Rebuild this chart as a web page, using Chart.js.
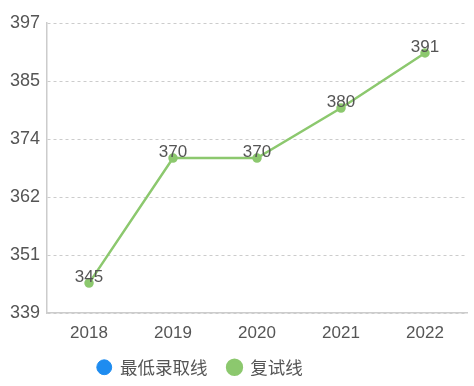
<!DOCTYPE html>
<html><head><meta charset="utf-8">
<script src="https://cdn.jsdelivr.net/npm/chart.js@4/dist/chart.umd.min.js"></script>
<style>html,body{margin:0;padding:0;background:#fff}#wrap{width:474px;height:386px}</style>
</head><body><div id="wrap"><canvas id="c" width="474" height="386"></canvas></div>
<script>
const categories = ['2018','2019','2020','2021','2022'];
const minScore = [null, null, null, null, null];
const retestLine = [345, 370, 370, 380, 391];
const yTicks = [339, 351, 362, 374, 385, 397];

const labelPlugin = {
  id: 'pointLabels',
  afterLayout(chart) {
    chart.legend.right -= 70;
  },
  afterDatasetsDraw(chart) {
    const ctx = chart.ctx;
    const meta = chart.getDatasetMeta(1);
    ctx.save();
    ctx.font = '17px "Liberation Sans", Arial, sans-serif';
    ctx.fillStyle = '#555';
    ctx.textAlign = 'center';
    ctx.textBaseline = 'bottom';
    meta.data.forEach((p, i) => {
      ctx.fillText(String(retestLine[i]), p.x, p.y + 3);
    });
    ctx.restore();
  }
};

new Chart(document.getElementById('c'), {
  type: 'line',
  data: {
    labels: categories,
    datasets: [
      { label: '最低录取线', data: minScore, borderColor: '#1e8cf0', backgroundColor: '#1e8cf0' },
      { label: '复试线', data: retestLine, borderColor: '#8cc86e', backgroundColor: '#8cc86e',
        borderWidth: 2.5, pointRadius: 3.5, pointHoverRadius: 3.5, tension: 0 }
    ]
  },
  options: {
    responsive: false,
    animation: false,
    layout: { padding: { left: 3, right: 7, top: 23, bottom: 0 } },
    plugins: {
      legend: {
        position: 'bottom',
        labels: {
          usePointStyle: true, pointStyle: 'circle', boxWidth: 14, boxHeight: 10.5,
          color: '#555', padding: 20,
          font: { size: 17.5, family: '"Noto Sans CJK SC", sans-serif' }
        }
      },
      tooltip: { enabled: false }
    },
    scales: {
      x: {
        offset: true,
        afterFit(scale) { scale.height -= 15; },
        grid: { display: false, drawTicks: false },
        border: { display: true, color: '#ccc', width: 1.5 },
        ticks: { color: '#555', padding: 10, font: { size: 17, family: '"Liberation Sans", Arial, sans-serif' } }
      },
      y: {
        min: 339, max: 397,
        afterBuildTicks(axis) { axis.ticks = [339, 350.6, 362.2, 373.8, 385.4, 397].map(v => ({ value: v })); },
        grid: { color: '#ccc', drawTicks: false, lineWidth: 1 },
        border: { display: true, color: '#ccc', width: 1.5, dash: [3, 3] },
        ticks: {
          color: '#555', padding: 7, font: { size: 18, family: '"Liberation Sans", Arial, sans-serif' },
          callback: (v, i) => String(yTicks[i])
        }
      }
    }
  },
  plugins: [labelPlugin]
});
</script>
</body></html>
